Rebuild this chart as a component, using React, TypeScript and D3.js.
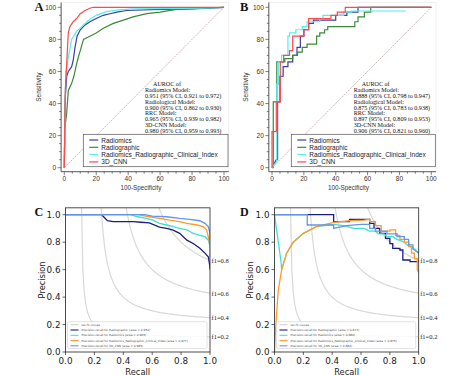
import React from "react";
import * as d3 from "d3";

type Pt = [number, number];

// ---------- Panel A: ROC (training) x = 100-Specificity, y = Sensitivity ----------
const rocARadiomics: Pt[] = [[0,0],[0.5,42],[1.5,57],[2.5,60],[4.6,63],[5.6,67],[6.7,75],[8,82],[10,86],[13,89],[16,91],[20,93],[24.4,95],[28.6,96],[33,97],[39,98],[54,98.5],[81,99],[100,100]];
const rocARadiographic: Pt[] = [[0,0],[0.3,25],[1.5,34],[2.5,48],[4.6,52.6],[6,57],[7.3,63],[8.8,69],[10,73],[12,80],[16,82],[20,84],[24.4,87],[30.7,90],[37,92],[43,94],[51.6,96],[60,97],[70,98.7],[85,99.4],[100,100]];
const rocARRCI: Pt[] = [[0,0],[0.5,40],[1,60],[2,65],[2.5,69],[4.6,80],[7.7,85],[12,89],[16,92.5],[20,95],[26.5,97.3],[33,98.3],[43,99],[85,99.4],[100,100]];
const rocA3DCNN: Pt[] = [[0,0],[0.3,26],[0.6,48],[1.5,65],[2.5,84],[3.5,88],[5.6,91],[7.7,93],[10,96],[13,98],[16,99.4],[18,100],[100,100]];

// ---------- Panel B: ROC (validation) ----------
const rocBRadiomics: Pt[] = [[0,0],[2.7,5],[3.5,5],[3.5,41],[5,41],[5,57],[7,57],[7,63],[10,63],[10,66],[13,66],[13,70],[15.7,70],[15.7,75],[17.8,75],[17.8,82],[20,82],[20,86],[23,86],[23,90],[26,90],[26,92],[40,92],[40,95],[47,95],[47,97],[54,97],[54,100],[100,100]];
const rocBRadiographic: Pt[] = [[0,0],[0.8,0],[0.8,41],[3,41],[3,66],[8,66],[8,68],[13,68],[13,70],[16,70],[16,72],[19,72],[19,75],[22,75],[22,77],[28,77],[28,82],[30,82],[30,84],[33,84],[33,86],[35,86],[35,88],[52,88],[52,91],[54,91],[54,94],[58,94],[58,97],[62,97],[62,100],[100,100]];
const rocBRRCI: Pt[] = [[0,0],[3,4],[3,52],[4,52],[4,66],[6,66],[6,70],[10,70],[10,82],[11,82],[11,84],[15,84],[15,86],[19,86],[19,88],[22,88],[22,91],[30,91],[30,93],[32,93],[32,95],[45,95],[45,97],[50,97],[50,97.7],[84,97.7]];
const rocB3DCNN: Pt[] = [[0,0],[0,22.5],[2.7,22.5],[2.7,41],[5.2,41],[5.2,66],[7.3,66],[7.3,70],[11,70],[11,73],[13,73],[13,82],[20,82],[20,86],[23,86],[23,93],[37,93],[37,95],[41,95],[41,97],[46,97],[46,100],[100,100]];

const rocNames = ["Radiomics", "Radiographic", "Radiomics_Radiographic_Clinical_Index", "3D_CNN"];
const rocColors = ["#3b3f9e", "#3a8a3a", "#55eeee", "#ff4848"];
const rocTicks = [0, 20, 40, 60, 80, 100];

const annA = [
  "AUROC of",
  "Radiomics Model:",
  "0.951 (95% CI, 0.921 to 0.972)",
  "Radiological Model:",
  "0.900 (95% CI, 0.862 to 0.930)",
  "RRC Model:",
  "0.965 (95% CI, 0.939 to 0.982)",
  "3D-CNN Model:",
  "0.980 (95% CI, 0.959 to 0.993)",
];
const annB = [
  "AUROC of",
  "Radiomics Model:",
  "0.888 (95% CI, 0.798 to 0.947)",
  "Radiological Model:",
  "0.875 (95% CI, 0.783 to 0.938)",
  "RRC Model:",
  "0.897 (95% CI, 0.809 to 0.953)",
  "3D-CNN Model:",
  "0.906 (95% CI, 0.821 to 0.960)",
];

// ---------- Panel C: PR (training) x = Recall, y = Precision ----------
const prCRadiographic: Pt[] = [[0,1],[0.25,1],[0.29,0.956],[0.33,0.949],[0.4,0.95],[0.47,0.95],[0.52,0.945],[0.58,0.94],[0.65,0.91],[0.7,0.9],[0.745,0.888],[0.79,0.864],[0.84,0.815],[0.884,0.79],[0.93,0.755],[0.965,0.72],[0.988,0.694],[1,0.62],[1,0.6]];
const prCRadiomics: Pt[] = [[0,1],[0.45,1],[0.5,0.985],[0.56,0.973],[0.605,0.96],[0.65,0.937],[0.7,0.925],[0.745,0.913],[0.79,0.9],[0.84,0.89],[0.884,0.864],[0.93,0.85],[0.965,0.84],[0.988,0.816],[1,0.77]];
const prCRRCI: Pt[] = [[0,1],[0.5,1],[0.58,0.985],[0.65,0.973],[0.72,0.96],[0.79,0.95],[0.84,0.937],[0.91,0.925],[0.953,0.913],[0.977,0.89],[0.988,0.84],[1,0.79],[1,0.67]];
const prC3DCNN: Pt[] = [[0,1],[0.55,1],[0.6,0.99],[0.7,0.985],[0.79,0.973],[0.86,0.966],[0.93,0.956],[0.965,0.937],[0.988,0.913],[1,0.864],[1,0.816]];

// ---------- Panel D: PR (validation) ----------
const prDRadiographic: Pt[] = [[0,1],[0.41,1],[0.41,0.95],[0.52,0.95],[0.52,0.966],[0.66,0.966],[0.66,0.937],[0.69,0.937],[0.69,0.9],[0.73,0.9],[0.73,0.864],[0.77,0.864],[0.77,0.828],[0.8,0.828],[0.8,0.79],[0.82,0.79],[0.82,0.755],[0.87,0.755],[0.87,0.743],[0.89,0.743],[0.89,0.67],[0.94,0.67],[0.94,0.658],[1,0.658]];
const prDRadiomics: Pt[] = [[0,1],[0.045,0.66],[0.05,0.6],[0.084,0.72],[0.13,0.8],[0.2,0.864],[0.29,0.913],[0.41,0.93],[0.48,0.92],[0.55,0.9],[0.62,0.9],[0.66,0.88],[0.7,0.88],[0.72,0.86],[0.76,0.86],[0.78,0.84],[0.82,0.84],[0.85,0.82],[0.9,0.8],[0.93,0.77],[0.96,0.76],[1,0.72]];
const prDRRCI: Pt[] = [[0,0],[0.005,0.12],[0.01,0.21],[0.026,0.45],[0.05,0.6],[0.084,0.72],[0.13,0.8],[0.2,0.864],[0.29,0.913],[0.41,0.944],[0.52,0.956],[0.62,0.96],[0.66,0.966],[0.66,0.95],[0.7,0.95],[0.7,0.92],[0.74,0.92],[0.74,0.88],[0.8,0.88],[0.8,0.89],[0.84,0.89],[0.84,0.85],[0.87,0.85],[0.87,0.82],[0.9,0.82],[0.9,0.8],[0.93,0.8],[0.93,0.77],[0.95,0.77],[0.95,0.72],[0.97,0.72],[0.97,0.68],[0.99,0.68],[0.99,0.6],[1,0.58]];
const prD3DCNN: Pt[] = [[0,1],[0.227,1],[0.227,0.925],[0.41,0.925],[0.41,0.9],[0.5,0.92],[0.6,0.93],[0.66,0.93],[0.66,0.9],[0.7,0.9],[0.7,0.88],[0.78,0.88],[0.78,0.86],[0.85,0.86],[0.85,0.84],[0.9,0.84],[0.9,0.82],[0.93,0.82],[0.93,0.78],[0.96,0.78],[0.96,0.75],[1,0.72]];

const prColors = ["#1c1c80", "#40e0d0", "#ff9a2a", "#6495ed"];
const prTicks = [0, 0.2, 0.4, 0.6, 0.8, 1.0];
const isoF1 = [0.2, 0.4, 0.6, 0.8];
const prLegendC = [
  "iso-f1 curves",
  "Precision-recall for Radiographic (area = 0.952)",
  "Precision-recall for Radiomics (area = 0.965)",
  "Precision-recall for Radiomics_Radiographic_Clinical_Index (area = 0.977)",
  "Precision-recall for 3D_CNN (area = 0.985)",
];
const prLegendD = [
  "iso-f1 curves",
  "Precision-recall for Radiographic (area = 0.873)",
  "Precision-recall for Radiomics (area = 0.880)",
  "Precision-recall for Radiomics_Radiographic_Clinical_Index (area = 0.875)",
  "Precision-recall for 3D_CNN (area = 0.882)",
];

const SANS = "'Liberation Sans', Arial, sans-serif";
const SERIF = "'Liberation Serif', 'Times New Roman', serif";
const DJ = "'DejaVu Sans', sans-serif";

function RocPanel(props: {
  id: string; letter: string; letterX: number; xRange: [number, number]; yRange: [number, number];
  series: Pt[][]; ann: string[]; annX: number; ylabX: number; legX: [number, number];
}) {
  const { letter, letterX, xRange, yRange, series, ann, annX, ylabX, legX } = props;
  const x = d3.scaleLinear().domain([0, 100]).range(xRange);
  const y = d3.scaleLinear().domain([0, 100]).range(yRange);
  const fl = x(-2), fr = x(103), ft = y(103), fb = y(-2.5);
  const line = d3.line<Pt>().x((d) => x(d[0])).y((d) => y(d[1]));
  const minor = d3.range(0, 101, 5);
  const legTop = 134.3, legBot = 166.7;
  const rowY = [140, 147.3, 154.6, 161.9];
  return (
    <g>
      <text x={letterX} y={10.5} fontFamily={SERIF} fontWeight="bold" fontSize={12.5} fill="#111">{letter}</text>
      <rect x={fl} y={ft} width={fr - fl} height={fb - ft} fill="none" stroke="#e6e6e6" strokeWidth={0.6} />
      <line x1={x(0)} y1={y(0)} x2={x(100)} y2={y(100)} stroke="#c9a3a3" strokeWidth={0.8} strokeDasharray="2,1" />
      {series.map((s, i) => (
        <path key={i} d={line(s) || ""} fill="none" stroke={rocColors[i]} strokeWidth={1.2} />
      ))}
      <line x1={fl} y1={ft} x2={fl} y2={fb} stroke="#333" strokeWidth={0.8} />
      <line x1={fl} y1={fb} x2={fr} y2={fb} stroke="#333" strokeWidth={0.8} />
      {minor.map((t) => (
        <g key={"t" + t}>
          <line x1={fl} x2={fl - (t % 20 === 0 ? 3.5 : 2)} y1={y(t)} y2={y(t)} stroke="#333" strokeWidth={0.6} />
          <line y1={fb} y2={fb + (t % 20 === 0 ? 3.5 : 2)} x1={x(t)} x2={x(t)} stroke="#333" strokeWidth={0.6} />
        </g>
      ))}
      {rocTicks.map((t) => (
        <g key={"l" + t} fontFamily={SANS} fontSize={6.5} fill="#333">
          <text x={fl - 5} y={y(t)} textAnchor="end" dominantBaseline="central">{t}</text>
          <text x={x(t)} y={fb + 7} textAnchor="middle" dominantBaseline="central">{t}</text>
        </g>
      ))}
      <text x={(fl + fr) / 2 - 4} y={fb + 16} textAnchor="middle" dominantBaseline="central" fontFamily={SANS} fontSize={6.3} fill="#333">100-Specificity</text>
      <text transform={`translate(${ylabX},${(ft + fb) / 2}) rotate(-90)`} textAnchor="middle" dominantBaseline="central" fontFamily={SANS} fontSize={6.5} fill="#333">Sensitivity</text>
      {ann.map((s, i) => (
        <text key={"a" + i} x={i === 0 ? annX + 8 : annX} y={86.3 + i * 5.8} fontFamily={SERIF} fontSize={6.1} fill="#111">{s}</text>
      ))}
      <rect x={legX[0]} y={legTop} width={legX[1] - legX[0]} height={legBot - legTop} fill="#fff" stroke="#555" strokeWidth={0.7} />
      {rocNames.map((n, i) => (
        <g key={"g" + i}>
          <line x1={legX[0] + 6} x2={legX[0] + 15} y1={rowY[i]} y2={rowY[i]} stroke={rocColors[i]} strokeWidth={1.2} />
          <text x={legX[0] + 18} y={rowY[i]} dominantBaseline="central" fontFamily={SANS} fontSize={6.5} fill="#222">{n}</text>
        </g>
      ))}
    </g>
  );
}

function PrPanel(props: {
  id: string; letter: string; letterX: number; xRange: [number, number]; series: Pt[][]; legend: string[]; ylabX: number;
}) {
  const { id, letter, letterX, xRange, series, legend, ylabX } = props;
  const x = d3.scaleLinear().domain([0, 1]).range(xRange);
  const y = d3.scaleLinear().domain([0, 1]).range([352, 214.7]);
  const fl = x(0), fr = x(1), ft = y(1.05), fb = y(0);
  const line = d3.line<Pt>().x((d) => x(d[0])).y((d) => y(d[1]));
  const grid = d3.range(1, 101).map((i) => i / 100);
  const legL = fl + 2, legR = fr - 3, legT = 321.7, legB = 348.5;
  const rows = [324.7, 330, 335.3, 340.6, 345.8];
  const legColors = ["#d0d0d0", ...prColors];
  return (
    <g>
      <defs>
        <clipPath id={"clip" + id}><rect x={fl} y={ft} width={fr - fl} height={fb - ft} /></clipPath>
      </defs>
      <text x={letterX} y={215.5} fontFamily={SERIF} fontWeight="bold" fontSize={12} fill="#111">{letter}</text>
      <g clipPath={`url(#clip${id})`}>
        {isoF1.map((f) => {
          const pts: Pt[] = grid.map((r) => [r, (f * r) / (2 * r - f)] as Pt).filter((p) => p[1] >= 0 && 2 * p[0] - f > 0);
          return <path key={f} d={line(pts) || ""} fill="none" stroke="#d8d8d8" strokeWidth={1.2} />;
        })}
        {series.map((s, i) => (
          <path key={i} d={line(s) || ""} fill="none" stroke={prColors[i]} strokeWidth={1.3} />
        ))}
      </g>
      {isoF1.map((f) => (
        <text key={"f" + f} x={fr + 1.5} y={y(f / (2 - f))} dominantBaseline="central" fontFamily={SERIF} fontSize={6.5} fill="#222">{`f1=${f}`}</text>
      ))}
      <rect x={fl} y={ft} width={fr - fl} height={fb - ft} fill="none" stroke="#222" strokeWidth={0.8} />
      {prTicks.map((t) => (
        <g key={"t" + t}>
          <line x1={fl} x2={fl - 3} y1={y(t)} y2={y(t)} stroke="#222" strokeWidth={0.7} />
          <line y1={fb} y2={fb + 3} x1={x(t)} x2={x(t)} stroke="#222" strokeWidth={0.7} />
          <text x={fl - 5} y={y(t)} textAnchor="end" dominantBaseline="central" fontFamily={DJ} fontSize={8.8} fill="#222">{t.toFixed(1)}</text>
          <text x={x(t)} y={fb + 8.5} textAnchor="middle" dominantBaseline="central" fontFamily={DJ} fontSize={8.8} fill="#222">{t.toFixed(1)}</text>
        </g>
      ))}
      <text x={(fl + fr) / 2} y={371.5} textAnchor="middle" dominantBaseline="central" fontFamily={DJ} fontSize={8.3} fill="#222">Recall</text>
      <text transform={`translate(${ylabX},${(ft + fb) / 2}) rotate(-90)`} textAnchor="middle" dominantBaseline="central" fontFamily={DJ} fontSize={8.3} fill="#222">Precision</text>
      <rect x={legL} y={legT} width={legR - legL} height={legB - legT} rx={1.5} fill="#fff" fillOpacity={0.85} stroke="#d0d0d0" strokeWidth={0.6} />
      {legend.map((s, i) => (
        <g key={"lg" + i}>
          <line x1={legL + 3} x2={legL + 11} y1={rows[i]} y2={rows[i]} stroke={legColors[i]} strokeWidth={1.1} />
          <text x={legL + 14} y={rows[i]} dominantBaseline="central" fontFamily={DJ} fontSize={2.9} fill="#444">{s}</text>
        </g>
      ))}
    </g>
  );
}

export default function App() {
  return (
    <svg width={474} height={375} viewBox="0 0 474 375" style={{ position: "absolute", left: 0, top: 0, background: "#fff" }}>
      <rect x={0} y={0} width={474} height={375} fill="#fff" />
      <RocPanel id="A" letter="A" letterX={34.5} xRange={[64.3, 224]} yRange={[167.7, 7.3]}
        series={[rocARadiomics, rocARadiographic, rocARRCI, rocA3DCNN]} ann={annA} annX={145} ylabX={38.3} legX={[83.3, 228]} />
      <RocPanel id="B" letter="B" letterX={240} xRange={[272, 431.3]} yRange={[167.7, 7.3]}
        series={[rocBRadiomics, rocBRadiographic, rocBRRCI, rocB3DCNN]} ann={annB} annX={353.7} ylabX={245.3} legX={[291.3, 435.3]} />
      <PrPanel id="C" letter="C" letterX={34.5} xRange={[65.5, 210]}
        series={[prCRadiographic, prCRadiomics, prCRRCI, prC3DCNN]} legend={prLegendC} ylabX={41.7} />
      <PrPanel id="D" letter="D" letterX={240} xRange={[274.5, 418.7]}
        series={[prDRadiographic, prDRadiomics, prDRRCI, prD3DCNN]} legend={prLegendD} ylabX={250.3} />
    </svg>
  );
}
